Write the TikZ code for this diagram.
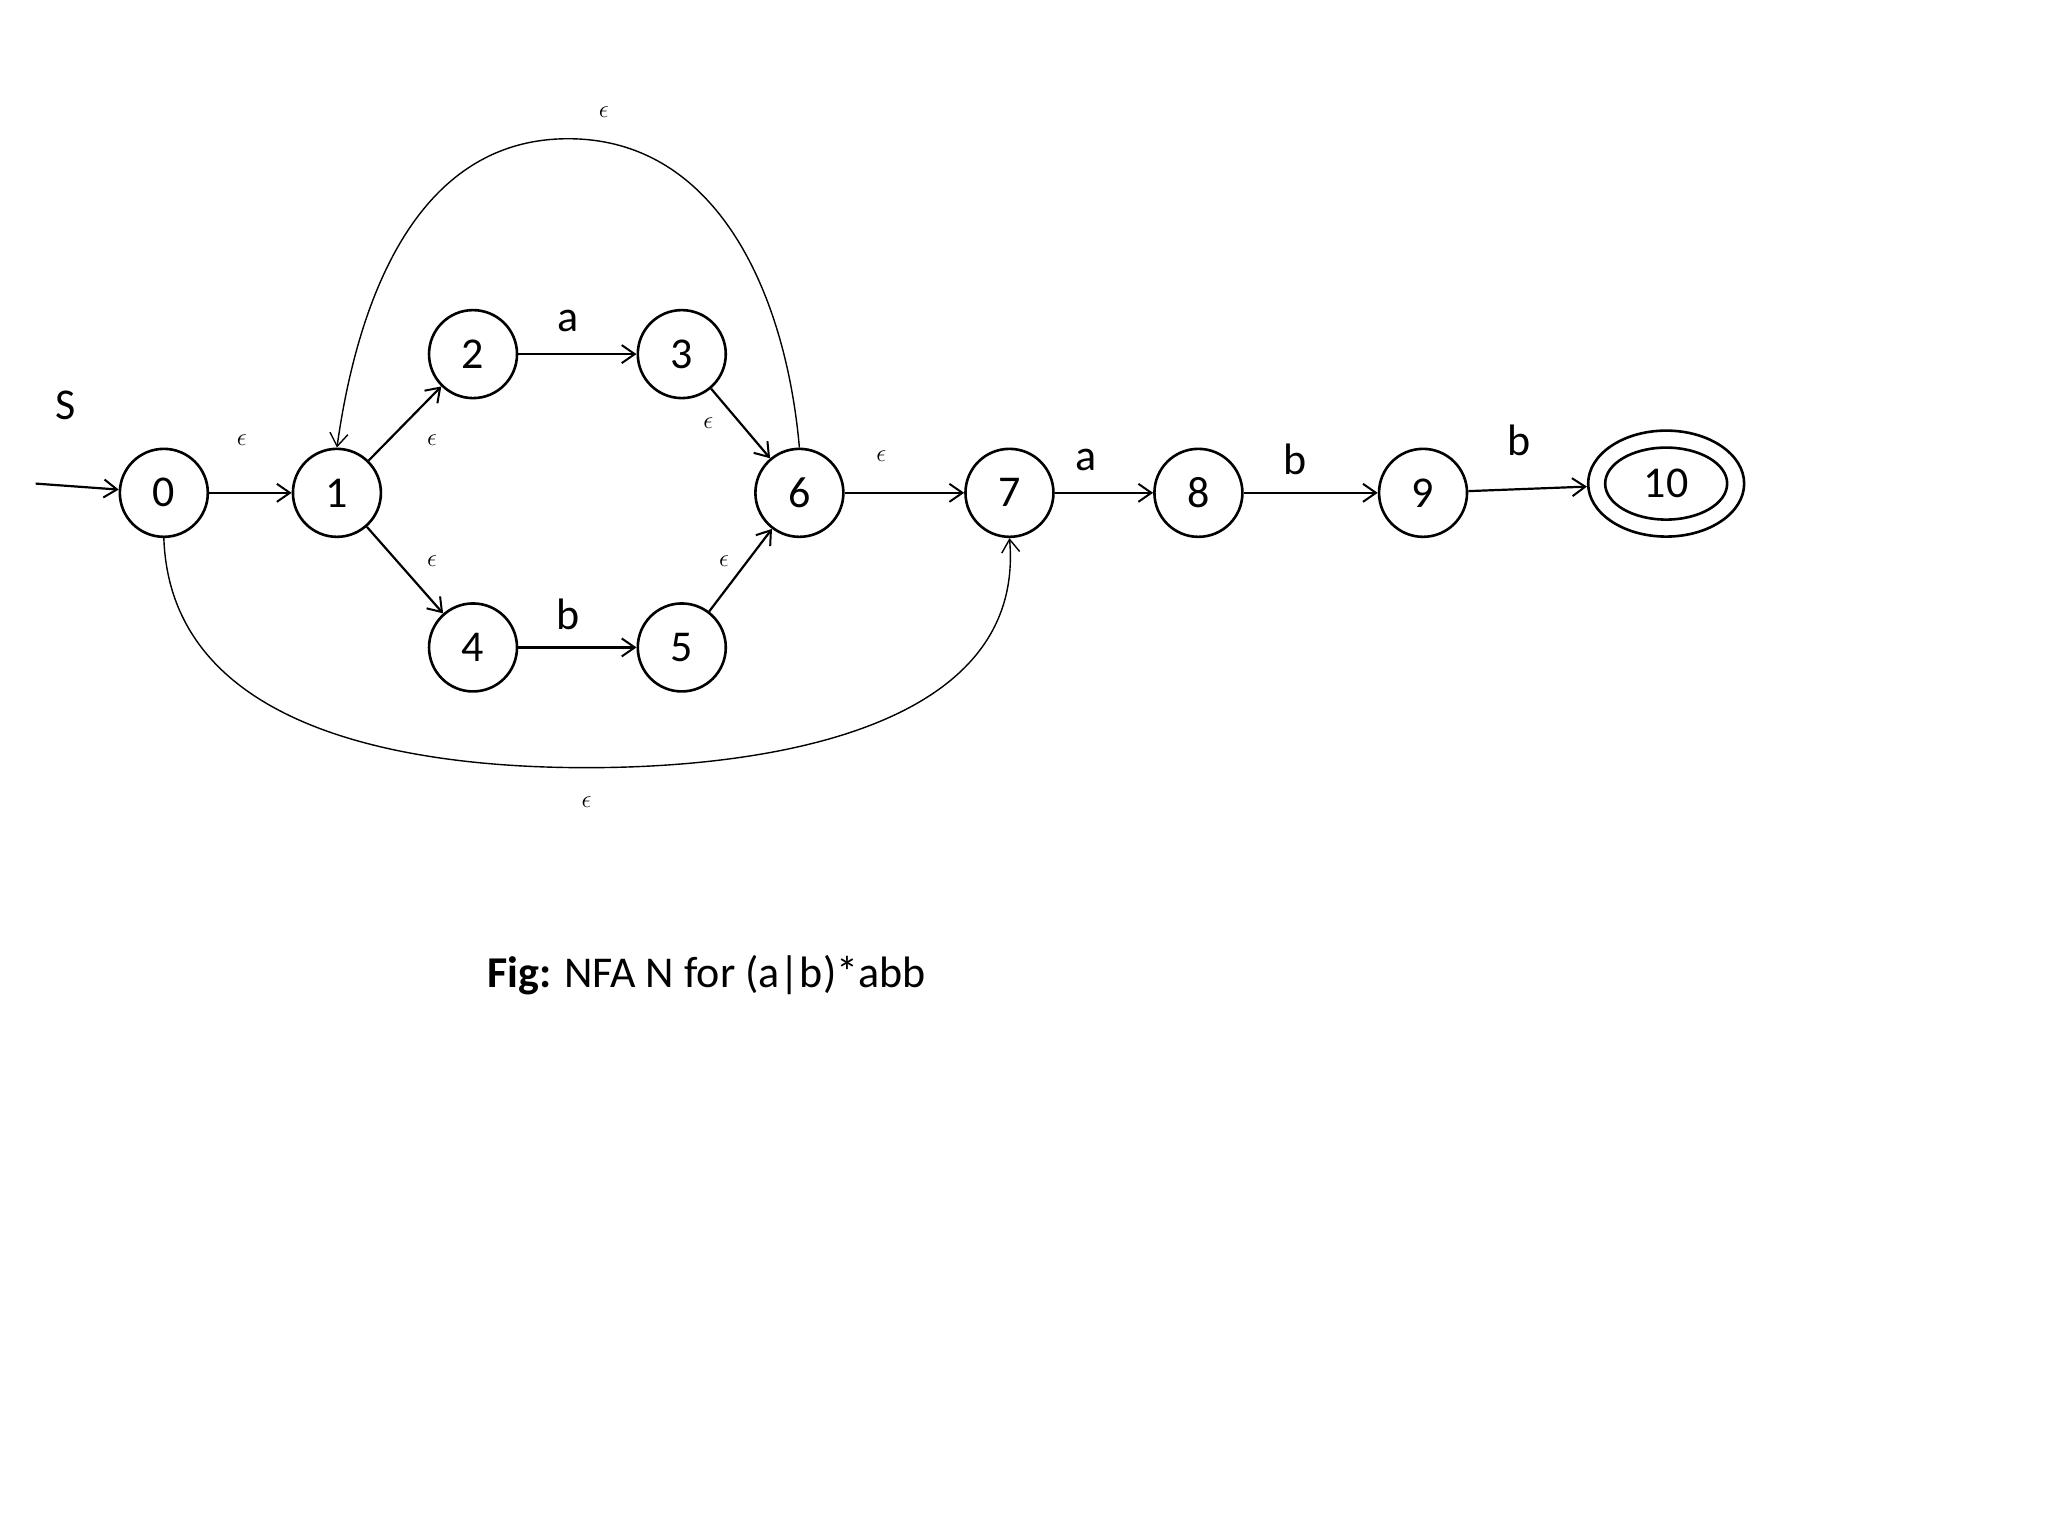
\documentclass[tikz,border=0pt]{standalone}
\usepackage{fontspec}
\setmainfont{Carlito}
\usetikzlibrary{arrows.meta,shapes.geometric}
\begin{document}
\begin{tikzpicture}[x=1.3214pt,y=-1.3214pt,
  st/.style={circle,draw,line width=2.6pt,minimum size=88pt,inner sep=0pt,font=\fontsize{44}{50}\selectfont},
  lab/.style={font=\fontsize{44}{50}\selectfont},
  ed/.style={line width=2.2pt,-{Straight Barb[length=13pt,width=18pt,line width=2pt]}},
  arc/.style={line width=1.4pt,-{Straight Barb[length=13pt,width=18pt,line width=1.4pt]}}]
\useasboundingbox (0,0) rectangle (1550,1162.4);
\node[st] (n0) at (124,373) {0};
\node[st] (n1) at (255,373) {1};
\node[st] (n2) at (358,268) {2};
\node[st] (n3) at (516,268) {3};
\node[st] (n4) at (358,490) {4};
\node[st] (n5) at (516,490) {5};
\node[st] (n6) at (605,373) {6};
\node[st] (n7) at (764,373) {7};
\node[st] (n8) at (907,373) {8};
\node[st] (n9) at (1077,373) {9};
\node[ellipse,draw,line width=2.6pt,minimum width=156pt,minimum height=106pt,inner sep=0pt] (n10) at (1261,366) {};
\node[ellipse,draw,line width=2.6pt,minimum width=122pt,minimum height=72pt,inner sep=0pt,font=\fontsize{44}{50}\selectfont] (n10i) at (1261,366) {10};
\coordinate (s0) at (27,366);
\coordinate (top) at (430,105);
\coordinate (bot) at (444,581);
\draw[ed] (s0) -- (n0);
\draw[ed] (n0) -- (n1);
\draw[ed] (n1) -- (n2);
\draw[ed] (n1) -- (n4);
\draw[ed] (n2) -- (n3);
\draw[ed] (n4) -- (n5);
\draw[ed] (n3) -- (n6);
\draw[ed] (n5) -- (n6);
\draw[ed] (n6) -- (n7);
\draw[ed] (n7) -- (n8);
\draw[ed] (n8) -- (n9);
\draw[ed] (n9) -- (n10);
\draw[arc] (n6.north) to[out=95,in=0] (top) to[out=180,in=82] (n1.north);
\draw[arc] (n0.south) to[out=-88,in=180] (bot) to[out=0,in=-85] (n7.south);
\node[lab] (lS) at (50,307) {S};
\node[lab] (l01) at (183,333) {$\epsilon$};
\node[lab] (l12) at (327,333) {$\epsilon$};
\node[lab] (l14) at (327,425) {$\epsilon$};
\node[lab] (l23) at (430,243) {a};
\node[lab] (l45) at (430,465) {b};
\node[lab] (l36) at (536,320) {$\epsilon$};
\node[lab] (l56) at (548,425) {$\epsilon$};
\node[lab] (l67) at (667,345) {$\epsilon$};
\node[lab] (l78) at (822,348) {a};
\node[lab] (l89) at (980,348) {b};
\node[lab] (l910) at (1150,333) {b};
\node[lab] (ltop) at (457,85) {$\epsilon$};
\node[lab] (lbot) at (444,607) {$\epsilon$};
\node[lab,anchor=west] (cap) at (366,738) {\textbf{Fig:} NFA N for (a|b)*abb};
\end{tikzpicture}
\end{document}
